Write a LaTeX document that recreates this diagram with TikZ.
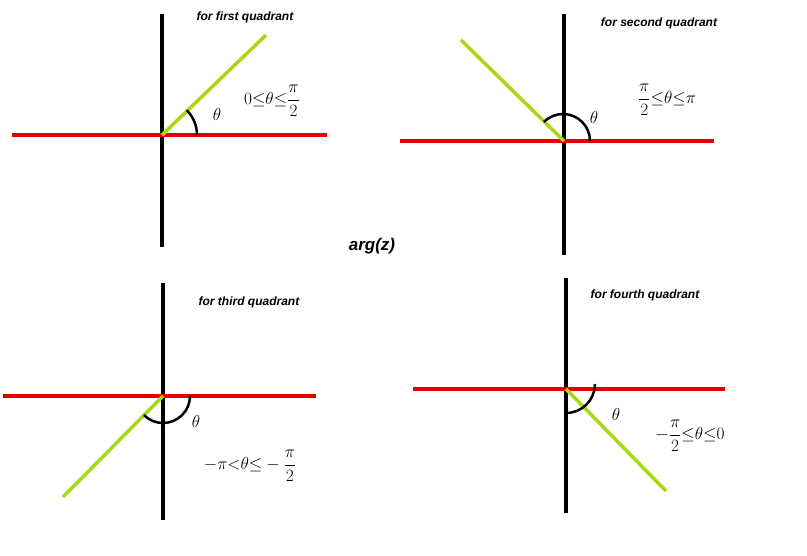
\documentclass[tikz,border=0pt]{standalone}
\usepackage{amsmath,amssymb}
\usepackage{fontspec}
\setsansfont{Liberation Sans}
\begin{document}
\begin{tikzpicture}[x=1pt,y=-1pt,
  ax/.style={line width=3.5pt,black},
  re/.style={line width=3.5pt,red!90!black},
  gr/.style={line width=3.5pt,color={rgb,255:red,170;green,214;blue,20}},
  ar/.style={line width=2.5pt,black},
  ttl/.style={font=\sffamily\bfseries\itshape\fontsize{12}{14}\selectfont},
  lab/.style={font=\fontsize{17}{20}\selectfont,inner sep=1pt}]
\useasboundingbox (0,0) rectangle (807,555);
% Q1
\coordinate (o1) at (162,135);
\draw[ax] (162,14) -- (162,247);
\draw[re] (12,135) -- (327,135);
\draw[gr] (o1) -- (266,35);
\draw[ar] (197,135) arc[start angle=0,end angle=-45,radius=35];
\node[lab] (t1) at (217,114) {$\theta$};
\node[lab] (l1) at (272,101) {$0{\le}\theta{\le}\dfrac{\pi}{2}$};
\node[ttl] (h1) at (245,17) {for first quadrant};
% Q2
\coordinate (o2) at (564,141);
\draw[ax] (564,14) -- (564,255);
\draw[re] (400,141) -- (714,141);
\draw[gr] (o2) -- (461,40);
\draw[ar] (590,141) arc[start angle=0,end angle=-135,radius=27];
\node[lab] (t2) at (594,117) {$\theta$};
\node[lab] (l2) at (667,100) {$\dfrac{\pi}{2}{\le}\theta{\le}\pi$};
\node[ttl] (h2) at (659,23) {for second quadrant};
\node[font=\sffamily\bfseries\itshape\fontsize{17}{20}\selectfont] (a) at (372,246) {arg(z)};
% Q3
\coordinate (o3) at (163,396);
\draw[ax] (163,283) -- (163,520);
\draw[re] (3,396) -- (316,396);
\draw[gr] (o3) -- (63,497);
\draw[ar] (190,396) arc[start angle=0,end angle=135,radius=27];
\node[lab] (t3) at (196,421) {$\theta$};
\node[lab] (l3) at (250,466) {$-\pi{<}\theta{\le}-\dfrac{\pi}{2}$};
\node[ttl] (h3) at (249,302) {for third quadrant};
% Q4
\coordinate (o4) at (566,389);
\draw[ax] (566,278) -- (566,513);
\draw[re] (413,389) -- (725,389);
\draw[gr] (o4) -- (666,491);
\draw[ar] (566,413) arc[start angle=90,end angle=0,radius=29];
\node[lab] (t4) at (616,414) {$\theta$};
\node[lab] (l4) at (690,436) {$-\dfrac{\pi}{2}{\le}\theta{\le}0$};
\node[ttl] (h4) at (645,295) {for fourth quadrant};
\end{tikzpicture}
\end{document}
